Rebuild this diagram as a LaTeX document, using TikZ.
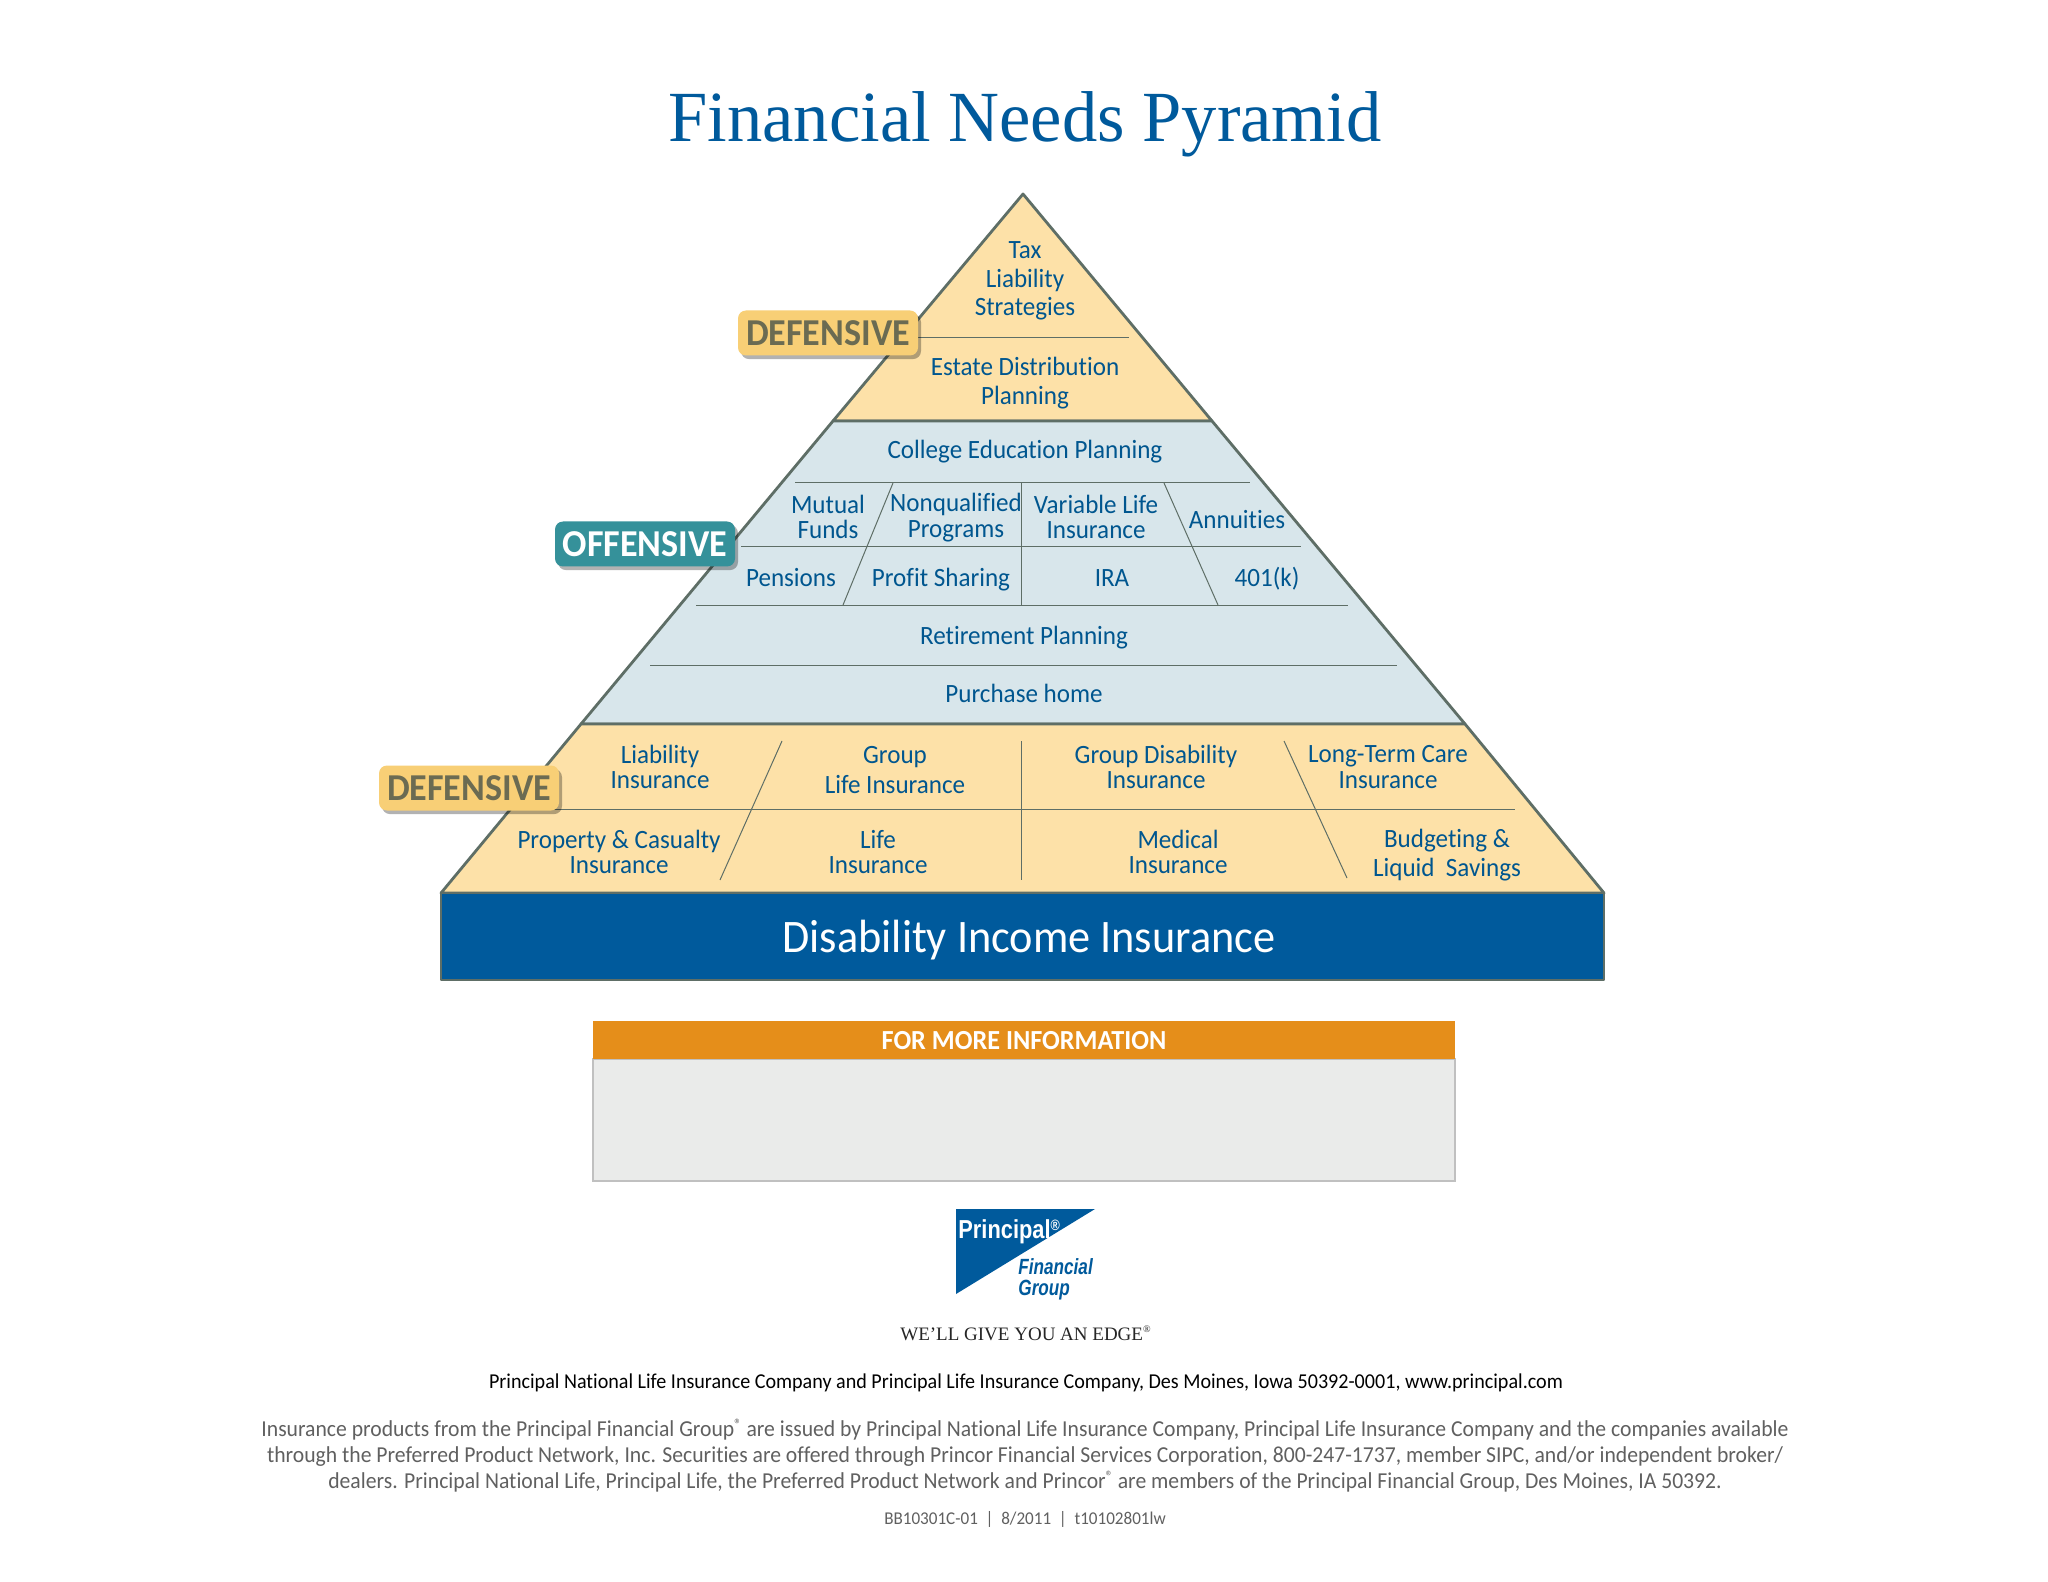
\documentclass[tikz,border=0pt]{standalone}
\usepackage{fontspec}
\setmainfont{Carlito}[FakeStretch=0.95,Ligatures=NoCommon]
\newfontfamily\serifface{Liberation Serif}[FakeStretch=0.98]
\newfontfamily\edgeface{Liberation Serif}
\newfontfamily\logoface{Liberation Sans}[FakeStretch=0.84]
\newfontfamily\logotwoface{Liberation Sans}[FakeStretch=0.78]
\usetikzlibrary{shadows}
\definecolor{paleyellow}{HTML}{FDE1A8}
\definecolor{paleblue}{HTML}{D8E6EB}
\definecolor{edgegrey}{HTML}{5E6E66}
\definecolor{navy}{HTML}{005A9C}
\definecolor{inktext}{HTML}{00568F}
\definecolor{orangebar}{HTML}{E58E1A}
\definecolor{panelgrey}{HTML}{EAEBEA}
\definecolor{panelline}{HTML}{C0C0C0}
\definecolor{tealtag}{HTML}{35919A}
\definecolor{yellowtag}{HTML}{F8CF76}
\definecolor{tagtext}{HTML}{6B6B52}
\definecolor{greytext}{HTML}{606060}
\newcommand{\regmark}{\raisebox{.3em}{\fontsize{7.5}{7.5}\selectfont ®}}
\tikzset{
  lbl/.style={inner sep=0pt,align=center,text=inktext,font=\fontsize{13.2}{14.6}\selectfont},
  lbltight/.style={lbl,font=\fontsize{13.2}{12.9}\selectfont},
  band/.style={draw=edgegrey,line width=1.4pt,line join=round},
  rule/.style={draw=edgegrey,line width=0.5pt},
  tag/.style={rounded corners=4pt,minimum width=90pt,minimum height=22.5pt,inner sep=0pt,
    font=\fontsize{19}{20}\selectfont\bfseries,
    drop shadow={shadow xshift=1.5pt,shadow yshift=-1.8pt,fill=black,opacity=.3}},
  yellowlab/.style={tag,fill=yellowtag,text=tagtext},
  teallab/.style={tag,fill=tealtag,text=white},
  foot/.style={inner sep=0pt,align=center}
}
\begin{document}
\begin{tikzpicture}[x=0.5pt,y=-0.5pt]
\useasboundingbox[fill=white] (0,0) rectangle (2048,1582);
% title
\node[foot,text=navy,font=\serifface\fontsize{36}{38}\selectfont] (title) at (1025,124) {Financial Needs Pyramid};
% bands
\path[band,fill=paleyellow] (1023,194) -- (1212,421) -- (833,421) -- cycle;
\path[band,fill=paleblue] (833,421) -- (1212,421) -- (1465,724) -- (581,724) -- cycle;
\path[band,fill=paleyellow] (581,724) -- (1465,724) -- (1604,893) -- (441,893) -- cycle;
\path[band,fill=navy] (441,893) rectangle (1604,980);
% rules
\draw[rule] (918,338) -- (1129,338);
\draw[rule] (795,483) -- (1250,483);
\draw[rule] (741,547) -- (1301,547);
\draw[rule] (696,605) -- (1348,605);
\draw[rule] (650,665) -- (1397,665);
\draw[rule] (1021,483) -- (1021,605);
\draw[rule] (893,483) -- (843,605);
\draw[rule] (1164,483) -- (1218,605);
\draw[rule] (538,809) -- (1515,809);
\draw[rule] (782,741) -- (720,880);
\draw[rule] (1021,741) -- (1021,880);
\draw[rule] (1284,741) -- (1347,878);
% yellow top
\node[lbl,font=\fontsize{13.2}{14.4}\selectfont] (tax) at (1025,281) {Tax\\Liability\\Strategies};
\node[lbl,font=\fontsize{13.2}{14.4}\selectfont] (estate) at (1025,383) {Estate Distribution\\Planning};
% blue
\node[lbl] (college) at (1025,452) {College Education Planning};
\node[lbltight] (mutual) at (828,517) {Mutual\\Funds};
\node[lbltight] (nonq) at (956,518) {Nonqualified\\Programs};
\node[lbltight] (varlife) at (1096,517) {Variable Life\\Insurance};
\node[lbl] (annu) at (1237,520) {Annuities};
\node[lbl] (pens) at (791,578) {Pensions};
\node[lbl] (profit) at (941,580) {Profit Sharing};
\node[lbl] (ira) at (1112,578) {IRA};
\node[lbl] (k401) at (1267,579) {401(k)};
\node[lbl] (retire) at (1024,638) {Retirement Planning};
\node[lbl] (home) at (1024,693) {Purchase home};
% yellow bottom
\node[lbltight] (liab) at (660,767) {Liability\\Insurance};
\node[lbl] (group) at (895,770) {Group\\Life Insurance};
\node[lbltight] (gdis) at (1156,767) {Group Disability\\Insurance};
\node[lbltight] (ltc) at (1388,767) {Long-Term Care\\Insurance};
\node[lbltight] (prop) at (619,852) {Property \& Casualty\\Insurance};
\node[lbltight] (life) at (878,852) {Life\\Insurance};
\node[lbltight] (med) at (1178,852) {Medical\\Insurance};
\node[lbl] (budget) at (1447,855) {Budgeting \&\\Liquid\ \ Savings};
% base
\node[foot,text=white,font=\fontsize{23.3}{25}\selectfont] (dii) at (1029,940) {Disability Income Insurance};
% tags
\node[yellowlab] (def1) at (828,333) {DEFENSIVE};
\node[teallab] (off) at (645,544) {OFFENSIVE};
\node[yellowlab] (def2) at (469,788) {DEFENSIVE};
% info panel
\path[fill=panelgrey,draw=panelline,line width=0.6pt] (593,1059) rectangle (1455,1181);
\path[fill=orangebar] (593,1021) rectangle (1455,1059);
\node[foot,text=white,font=\fontsize{13.8}{15}\selectfont\bfseries] (info) at (1024,1041) {FOR MORE INFORMATION};
% logo
\path[fill=navy] (956,1209) -- (1095,1209) -- (956,1294) -- cycle;
\node[foot,anchor=west,text=white,font=\logoface\bfseries\fontsize{13}{14}\selectfont] (prin) at (958,1232) {Principal\regmark};
\node[foot,anchor=west,text=navy,font=\logotwoface\bfseries\itshape\fontsize{11}{10.4}\selectfont,align=left] (fin) at (1018,1279) {Financial\\Group};
\node[foot,text=black!85,font=\edgeface\fontsize{9.5}{11}\selectfont] (edge) at (1026,1333) {WE’LL GIVE YOU AN EDGE\textsuperscript{\tiny\textregistered}};
% footer
\node[foot,text=black,font=\fontsize{10.58}{12}\selectfont] (addr) at (1026,1383) {Principal National Life Insurance Company and Principal Life Insurance Company, Des Moines, Iowa 50392-0001, www.principal.com};
\node[foot,text=greytext,font=\fontsize{11.4}{13}\selectfont] (legal) at (1025,1456) {Insurance products from the Principal Financial Group\regmark{} are issued by Principal National Life Insurance Company, Principal Life Insurance Company and the companies available\\through the Preferred Product Network, Inc. Securities are offered through Princor Financial Services Corporation, 800-247-1737, member SIPC, and/or independent broker/\\dealers. Principal National Life, Principal Life, the Preferred Product Network and Princor\regmark{} are members of the Principal Financial Group, Des Moines, IA 50392.};
\node[foot,text=greytext,font=\fontsize{9}{10}\selectfont] (code) at (1025,1519) {BB10301C-01\ \ |\ \ 8/2011\ \ |\ \ t10102801lw};
\end{tikzpicture}
\end{document}
